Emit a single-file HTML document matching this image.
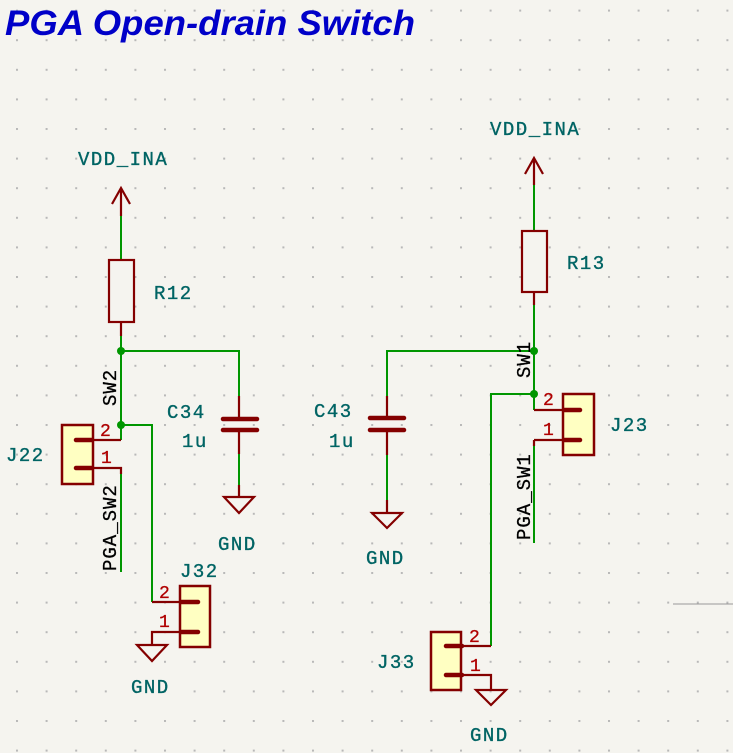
<!DOCTYPE html>
<html><head><meta charset="utf-8"><style>
html,body{margin:0;padding:0;background:#f5f4ef;}
svg{display:block;}
.t{font-family:"Liberation Mono","DejaVu Sans Mono",monospace;font-size:19px;fill:#006464;letter-spacing:1.5px;stroke:#006464;stroke-width:0.35;}
.n{font-family:"Liberation Mono","DejaVu Sans Mono",monospace;font-size:19px;fill:#000;letter-spacing:1px;stroke:#000;stroke-width:0.3;}
.p{font-family:"Liberation Mono","DejaVu Sans Mono",monospace;font-size:18px;fill:#b00000;stroke:#b00000;stroke-width:0.3;}
.w{stroke:#009600;stroke-width:2;fill:none;}
.r{stroke:#840000;stroke-width:2.2;fill:none;}
.rt{stroke:#840000;stroke-width:4.5;fill:none;stroke-linecap:round;}
.b{stroke:#840000;stroke-width:2.5;fill:#ffffc2;}
</style></head><body>
<svg width="733" height="753" viewBox="0 0 733 753" xmlns="http://www.w3.org/2000/svg">
<defs><pattern id="g" x="16" y="9.6" width="29.6" height="29.6" patternUnits="userSpaceOnUse"><rect x="0" y="0" width="2" height="2" fill="#b8b8b8"/></pattern></defs>
<rect width="733" height="753" fill="#f5f4ef"/>
<rect width="733" height="753" fill="url(#g)"/>
<text x="5" y="35" textLength="410" lengthAdjust="spacingAndGlyphs" font-family="Liberation Sans, sans-serif" font-weight="bold" font-style="italic" font-size="35" fill="#0000c8">PGA Open-drain Switch</text>
<line x1="673" y1="604" x2="733" y2="604" stroke="#999" stroke-width="1"/>

<!-- LEFT -->
<text class="t" x="78" y="165">VDD_INA</text>
<path class="r" d="M112 204 L121 188 L130 204 M121 188 V216"/>
<path class="w" d="M121 216 V260"/>
<rect class="r" x="109" y="260" width="25" height="62" stroke-width="3"/>
<path class="r" d="M121 322 V336"/>
<path class="w" d="M121 336 V440 M121 351 H239 V396 M121 425 H152 V602 M121 468 V572"/>
<circle cx="121" cy="351" r="4" fill="#009600"/>
<circle cx="121" cy="425" r="4" fill="#009600"/>
<text class="t" x="154" y="299">R12</text>
<path class="r" d="M239 396 V419 M239 430 V454"/>
<path class="rt" d="M223 419 H257 M223 430 H257"/>
<path class="w" d="M239 454 V485"/>
<path class="r" d="M239 485 V497 M224 497 H254 L239 513 Z"/>
<text class="t" x="167" y="418">C34</text>
<text class="t" x="182" y="447">1u</text>
<text class="t" x="218" y="550">GND</text>
<text class="n" transform="translate(116,406) rotate(-90)">SW2</text>
<rect class="b" x="62" y="425" width="31" height="59"/>
<path class="r" d="M92 440 H121 M92 468 H121 V474"/>
<path class="rt" d="M76 440 H92 M76 468 H92"/>
<text class="p" x="100" y="436">2</text>
<text class="p" x="101" y="463">1</text>
<text class="t" x="6" y="461">J22</text>
<text class="n" transform="translate(116,571) rotate(-90)">PGA_SW2</text>
<path class="r" d="M152 602 H181 M181 632 H152 V645 M137 645 H167 L152 661 Z"/>
<rect class="b" x="180" y="586" width="30" height="61"/>
<path class="rt" d="M181 602 H198 M181 632 H198"/>
<text class="p" x="159" y="598">2</text>
<text class="p" x="159" y="627">1</text>
<text class="t" x="180" y="577">J32</text>
<text class="t" x="131" y="693">GND</text>

<!-- RIGHT -->
<text class="t" x="490" y="135">VDD_INA</text>
<path class="r" d="M525 174 L534 158 L543 174 M534 158 V185"/>
<path class="w" d="M534 185 V231"/>
<rect class="r" x="522" y="231" width="25" height="61" stroke-width="3"/>
<path class="r" d="M534 292 V305"/>
<path class="w" d="M534 305 V410 M534 351 H387 V396 M534 394 H491 V646 M534 440 V543"/>
<circle cx="534" cy="351" r="4" fill="#009600"/>
<circle cx="534" cy="394" r="4" fill="#009600"/>
<text class="t" x="567" y="269">R13</text>
<path class="r" d="M387 396 V418 M387 430 V455"/>
<path class="rt" d="M370 418 H404 M370 430 H404"/>
<path class="w" d="M387 455 V500"/>
<path class="r" d="M387 500 V513 M372 513 H402 L387 528 Z"/>
<text class="t" x="314" y="417">C43</text>
<text class="t" x="329" y="447">1u</text>
<text class="t" x="366" y="564">GND</text>
<text class="n" transform="translate(530,378) rotate(-90)">SW1</text>
<rect class="b" x="563" y="394" width="31" height="61"/>
<path class="r" d="M534 410 H563 M534 440 H563 M534 440 V446"/>
<path class="rt" d="M564 410 H580 M564 440 H580"/>
<text class="p" x="543" y="405">2</text>
<text class="p" x="543" y="435">1</text>
<text class="t" x="610" y="431">J23</text>
<text class="n" transform="translate(530,540) rotate(-90)">PGA_SW1</text>
<rect class="b" x="431" y="632" width="30" height="58"/>
<path class="r" d="M461 646 H491 M461 675 H491 V690 M476 690 H506 L491 705 Z"/>
<path class="rt" d="M446 646 H462 M446 675 H462"/>
<text class="p" x="469" y="642">2</text>
<text class="p" x="470" y="671">1</text>
<text class="t" x="377" y="668">J33</text>
<text class="t" x="470" y="741">GND</text>
</svg>
</body></html>
